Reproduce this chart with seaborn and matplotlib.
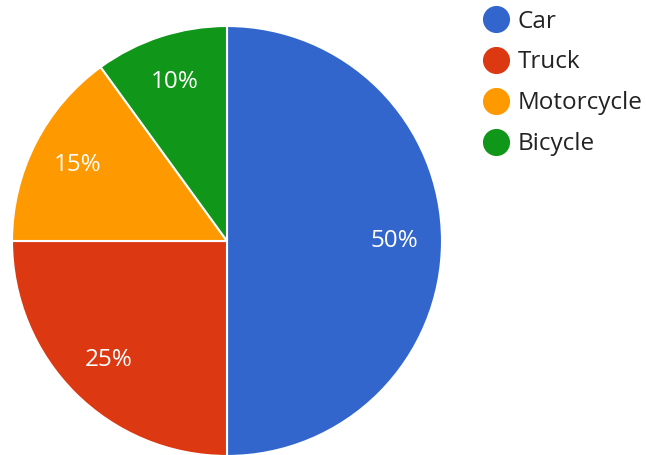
import matplotlib
matplotlib.use("Agg")
import matplotlib.pyplot as plt
from matplotlib.lines import Line2D
import seaborn as sns

# data
categories = ['Car', 'Truck', 'Motorcycle', 'Bicycle']
shares = [50, 25, 15, 10]
colors = ['#3366cc', '#dc3912', '#ff9900', '#109618']

sns.set_theme(style="white")
plt.rcParams['font.family'] = ['Open Sans', 'DejaVu Sans']

fig = plt.figure(figsize=(6.46, 4.55), dpi=100)
ax = fig.add_axes([12 / 646, -1 / 455, 430 / 646, 430 / 455])
wedges, texts, autotexts = ax.pie(
    shares, colors=sns.color_palette(colors), startangle=90, counterclock=False,
    autopct='%1.0f%%', pctdistance=0.78,
    wedgeprops=dict(edgecolor='white', linewidth=1.5),
    textprops=dict(color='white', fontsize=17.5))
ax.set_aspect('equal')
ax.set_xlim(-1, 1)
ax.set_ylim(-1, 1)

handles = [Line2D([], [], marker='o', linestyle='none', markersize=18.5,
                  markerfacecolor=c, markeredgecolor=c) for c in colors]
fig.legend(handles, categories, loc='upper left', bbox_to_anchor=(470 / 646, 1.0),
           frameon=False, fontsize=17.5, handletextpad=0.25, labelspacing=0.69,
           labelcolor='#222222', borderaxespad=0, handlelength=1.3)

fig.savefig('out.png', dpi=100)
